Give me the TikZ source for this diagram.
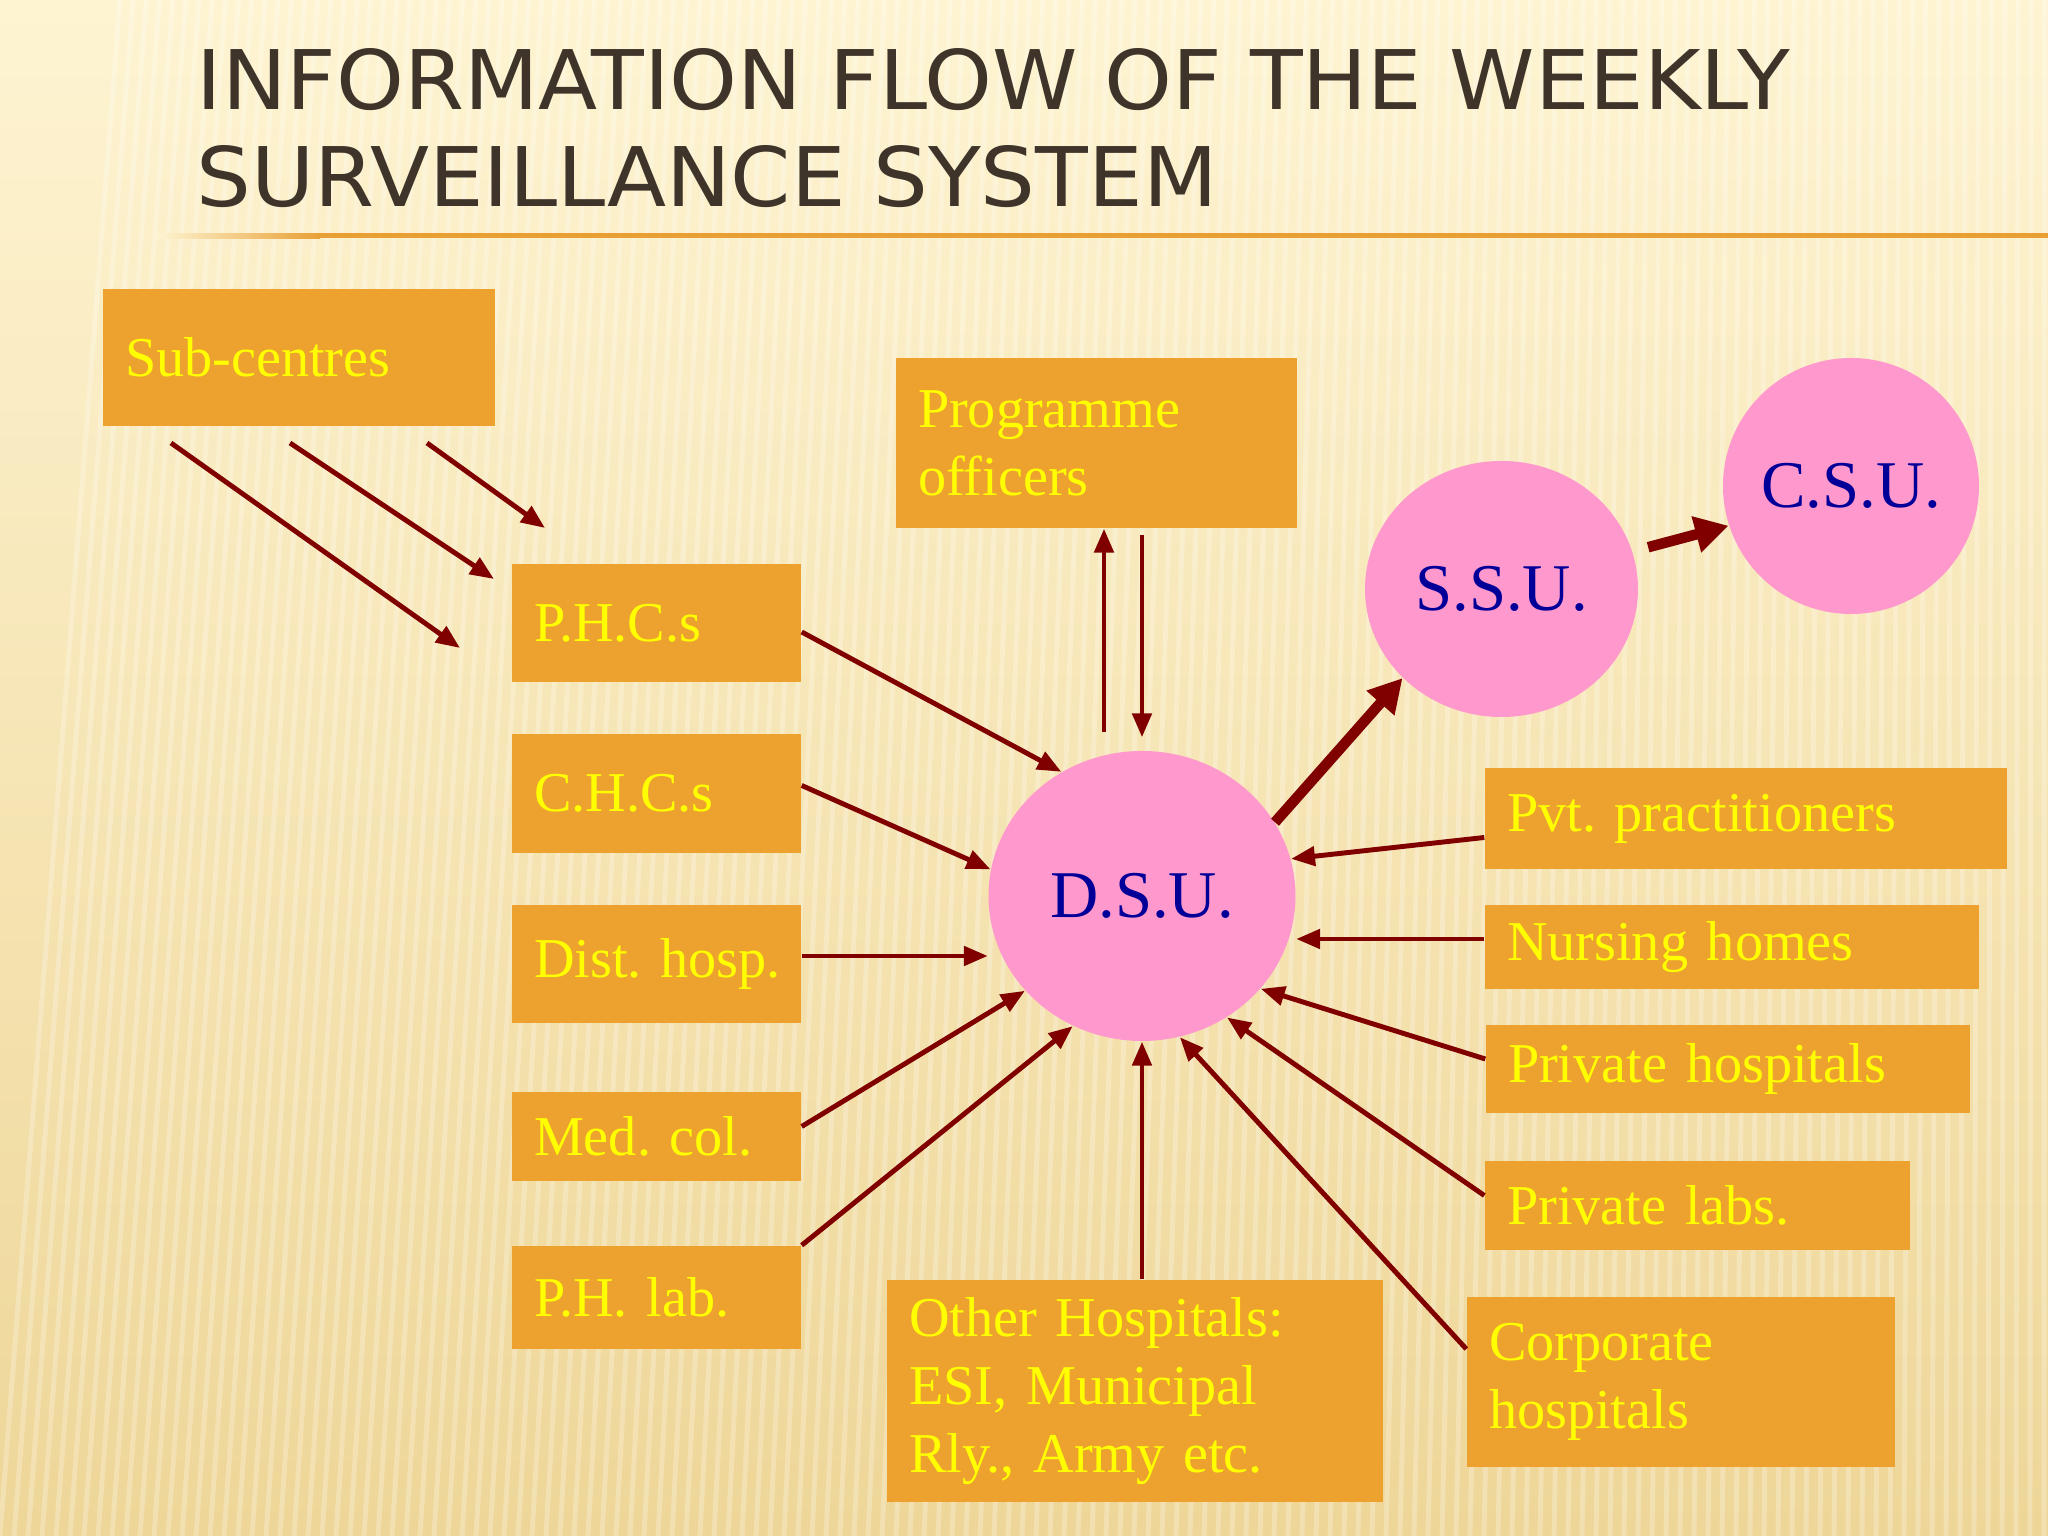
\documentclass[tikz,border=0pt]{standalone}
\usepackage{fontspec}
\setmainfont{Liberation Serif}
\newfontfamily\titlefont[FakeStretch=1.05]{DejaVu Sans}
\usepackage{tikz}
\usetikzlibrary{arrows.meta, positioning, calc, shapes.geometric}
\frenchspacing

\definecolor{bgtop}{RGB}{254,244,210}
\definecolor{bgbot}{RGB}{238,214,152}
\definecolor{boxfill}{RGB}{237,162,47}
\definecolor{boxtext}{RGB}{255,255,0}
\definecolor{unitfill}{RGB}{255,152,204}
\definecolor{unittext}{RGB}{0,0,153}
\definecolor{arrowred}{RGB}{128,0,0}
\definecolor{titlecol}{RGB}{62,52,42}
\definecolor{rulecol}{RGB}{232,160,52}

\newcommand{\boxfont}{\fontsize{16}{19.4}\selectfont}
\newcommand{\unitfont}{\fontsize{19}{22}\selectfont}

\tikzset{
    srcbox/.style={fill=boxfill, text=boxtext, font=\boxfont, inner xsep=0.22cm, inner ysep=0pt, align=left},
    unit/.style={ellipse, fill=unitfill, text=unittext, font=\unitfont, inner sep=0pt},
    flow/.style={-{Triangle[length=6.8pt, width=5.4pt]}, draw=arrowred, line width=1.4pt},
    bigflow/.style={-{Triangle[length=9.5pt, width=10pt]}, draw=arrowred, line width=3pt},
    stripe/.style={white, opacity=0.25, line width=1.4pt},
}

\begin{document}
\begin{tikzpicture}
    % fundo
    \useasboundingbox (0,0) rectangle (20.48,15.36);
    \shade[top color=bgtop, bottom color=bgbot] (0,0) rectangle (20.48,15.36);
    \begin{scope}
        \clip (0,0) rectangle (20.48,15.36);
        \foreach \i in {0,...,146}
            \draw[stripe] ({\i*0.14},0) -- ({\i*0.14+1.2-\i*0.0082},15.36);
    \end{scope}

    % titulo
    \node[anchor=base west, inner sep=0pt, text=titlecol, font=\titlefont\fontsize{23.4}{28}\selectfont] (title1) at (1.96,14.26) {INFORMATION FLOW OF THE WEEKLY};
    \node[anchor=base west, inner sep=0pt, text=titlecol, font=\titlefont\fontsize{23.4}{28}\selectfont] (title2) at (1.96,13.29) {SURVEILLANCE SYSTEM};
    \shade[left color=bgtop, right color=rulecol] (1.57,12.975) rectangle (3.2,13.025);
    \fill[rulecol] (3.2,12.975) rectangle (20.48,13.025);

    % caixas da esquerda
    \node[srcbox, text width=3.48cm, minimum height=1.37cm] (sub) at (2.99,11.785) {Sub-centres};
    \node[srcbox, text width=2.45cm, minimum height=1.18cm] (phc) at (6.565,9.13) {P.H.C.s};
    \node[srcbox, text width=2.45cm, minimum height=1.19cm] (chc) at (6.565,7.425) {C.H.C.s};
    \node[srcbox, text width=2.45cm, minimum height=1.18cm] (dist) at (6.565,5.72) {\mbox{Dist. hosp.}};
    \node[srcbox, text width=2.45cm, minimum height=0.89cm] (medcol) at (6.565,3.995) {Med. col.};
    \node[srcbox, text width=2.45cm, minimum height=1.03cm] (phlab) at (6.565,2.385) {P.H. lab.};

    % caixas do meio
    \node[srcbox, text width=3.57cm, minimum height=1.70cm] (prog) at (10.965,10.93) {Programme\\officers};
    \node[srcbox, text width=4.52cm, minimum height=2.22cm] (other) at (11.35,1.45) {Other Hospitals:\\ESI, Municipal\\Rly., Army etc.};

    % caixas da direita
    \node[srcbox, text width=4.78cm, minimum height=1.01cm] (pvt) at (17.46,7.175) {Pvt. practitioners};
    \node[srcbox, text width=4.50cm, minimum height=0.84cm] (nurs) at (17.32,5.89) {Nursing homes};
    \node[srcbox, text width=4.40cm, minimum height=0.88cm] (privh) at (17.28,4.67) {Private hospitals};
    \node[srcbox, text width=3.81cm, minimum height=0.89cm] (labs) at (16.975,3.305) {Private labs.};
    \node[srcbox, text width=3.84cm, minimum height=1.70cm] (corp) at (16.81,1.54) {Corporate\\hospitals};

    % unidades
    \node[unit, minimum width=3.07cm, minimum height=2.90cm] (dsu) at (11.42,6.40) {D.S.U.};
    \node[unit, minimum width=2.73cm, minimum height=2.56cm] (ssu) at (15.015,9.47) {S.S.U.};
    \node[unit, minimum width=2.56cm, minimum height=2.56cm] (csu) at (18.51,10.50) {C.S.U.};

    % setas dos sub-centros
    \coordinate (sc1) at (1.71,10.93);
    \coordinate (sc2) at (2.90,10.93);
    \coordinate (sc3) at (4.27,10.93);
    \coordinate (hc1) at (4.60,8.88);
    \coordinate (hc2) at (4.94,9.57);
    \coordinate (hc3) at (5.45,10.08);
    \draw[flow] (sc1) -- (hc1);
    \draw[flow] (sc2) -- (hc2);
    \draw[flow] (sc3) -- (hc3);

    % entradas do D.S.U.
    \draw[flow] ([yshift=-0.09cm]phc.east) -- (dsu.123);
    \draw[flow] ([yshift=0.08cm]chc.east) -- (dsu.170);
    \draw[flow] ([yshift=0.08cm]dist.east) -- ([yshift=0.08cm]dist.east -| dsu.west);
    \draw[flow] ([yshift=0.1cm]medcol.east) -- (dsu.219);
    \draw[flow] (phlab.north east) -- (dsu.242);
    \draw[flow] (dsu.south |- other.north) -- (dsu.south);
    \draw[flow] ([yshift=0.33cm]corp.west) -- (dsu.285);
    \draw[flow] ([yshift=0.1cm]labs.west) -- (dsu.305);
    \draw[flow] ([yshift=0.1cm]privh.west) -- (dsu.322);
    \draw[flow] ([yshift=0.08cm]nurs.west) -- ([yshift=0.08cm]nurs.west -| dsu.east);
    \draw[flow] ([yshift=-0.19cm]pvt.west) -- (dsu.14);

    % programme officers
    \draw[flow] ([xshift=-0.38cm, yshift=0.18cm]dsu.north) -- ([xshift=-0.38cm]dsu.north |- prog.south);
    \draw[flow] ([yshift=-0.06cm]dsu.north |- prog.south) -- ([yshift=0.13cm]dsu.north);

    % para cima
    \draw[bigflow] (dsu.29) -- (ssu.222);
    \draw[bigflow, shorten <=0.16cm] (ssu.16) -- (csu.198);

\end{tikzpicture}
\end{document}
